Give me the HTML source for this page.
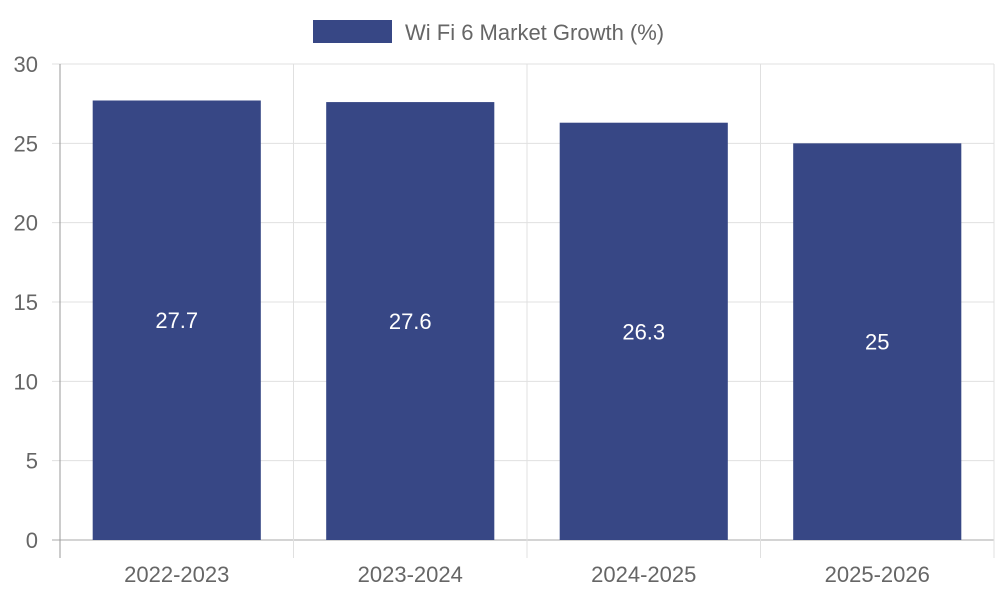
<!DOCTYPE html>
<html><head><meta charset="utf-8"><style>
html,body{margin:0;padding:0;background:#fff;}
svg{display:block;font-family:"Liberation Sans",sans-serif;}
</style></head><body>
<svg id="chart" width="1000" height="600">
<g id="legend">
<rect x="313" y="20" width="79" height="23" fill="#374785"></rect>
<text x="405" y="40" font-size="22" fill="#666">Wi Fi 6 Market Growth (%)</text>
</g>
<g id="grid"></g><g id="bars"></g><g id="axes"></g>
</svg>
<script>
const categories = ["2022-2023","2023-2024","2024-2025","2025-2026"];
const values = [27.7,27.6,26.3,25];
const yTicks = [0,5,10,15,20,25,30];
const ns="http://www.w3.org/2000/svg";
const L=60,R=994,T=64,B=540,yMax=30;
const y=v=>B-(v/yMax)*(B-T);
const bw=(R-L)/categories.length;
const x=i=>L+bw*i;
function mk(tag,attrs,parent){const e=document.createElementNS(ns,tag);for(const k in attrs)e.setAttribute(k,attrs[k]);parent.appendChild(e);return e;}
const grid=document.getElementById('grid'),bars=document.getElementById('bars'),axes=document.getElementById('axes');
yTicks.forEach(t=>{
 const l=mk('line',{x1:L-8,x2:R,y1:y(t),y2:y(t),stroke:t===0?'#aaa':'#e0e0e0','stroke-width':1},grid);
 
 
 const tx=mk('text',{x:L-22,y:y(t)+8,'text-anchor':'end','font-size':22,fill:'#666'},axes);
 tx.textContent=t;
 
 
});
for(let i=0;i<=categories.length;i++){
 const l=mk('line',{x1:x(i),x2:x(i),y1:T,y2:B+18,stroke:i===0?'#999':'#e0e0e0','stroke-width':1},grid);
 
 
}
categories.forEach((c,i)=>{
 const w=bw*0.72,cx=x(i)+bw/2;
 const r=mk('rect',{x:cx-w/2,y:y(values[i]),width:w,height:B-y(values[i]),fill:'#374785'},bars);
 
 
 const v=mk('text',{x:cx,y:(y(values[i])+B)/2+8,'text-anchor':'middle','font-size':22,fill:'#fff'},bars);
 v.textContent=values[i];
 
 
 const t=mk('text',{x:cx,y:582,'text-anchor':'middle','font-size':22,fill:'#666'},axes);
 t.textContent=c;
 
 
});
</script>
</body></html>
